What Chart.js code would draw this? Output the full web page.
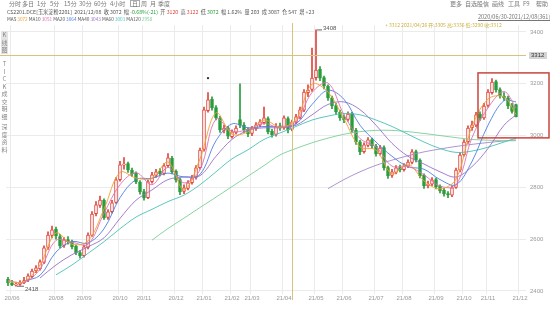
<!DOCTYPE html>
<html>
<head>
<meta charset="utf-8">
<script src="https://cdn.jsdelivr.net/npm/chart.js@4.4.0/dist/chart.umd.min.js"></script>
<style>
body{margin:0;background:#fff;font-family:"Noto Sans CJK SC","Noto Sans",sans-serif;}
#wrap{position:relative;width:550px;height:312px;overflow:hidden;}
#c{position:absolute;left:0;top:0;}
.t{position:absolute;font-size:6px;line-height:7px;color:#777;white-space:nowrap;}
.side{position:absolute;left:1px;width:7px;font-size:6px;line-height:7.5px;color:#888;text-align:center;}
.g{color:#2a9d3c}.r{color:#e0453c}
</style>
</head>
<body>
<div id="wrap">
<canvas id="c" width="550" height="312"></canvas>

<div class="t" style="left:9px;top:0px">分时</div>
<div class="t" style="left:22px;top:0px">多日</div>
<div class="t" style="left:37px;top:0px">1分</div>
<div class="t" style="left:50px;top:0px">5分</div>
<div class="t" style="left:64px;top:0px">15分</div>
<div class="t" style="left:79px;top:0px">30分</div>
<div class="t" style="left:94px;top:0px">60分</div>
<div class="t" style="left:110px;top:0px">4小时</div>
<div class="t" style="left:130px;top:0px;border:1px solid #aaa;line-height:5px;padding:0 1px">日</div>
<div class="t" style="left:141px;top:0px">周</div>
<div class="t" style="left:150px;top:0px">月</div>
<div class="t" style="left:158px;top:0px">季度</div>

<div class="t" style="left:450px;top:0px">更多</div>
<div class="t" style="left:465px;top:0px">自选股信</div>
<div class="t" style="left:492px;top:0px">画线</div>
<div class="t" style="left:508px;top:0px">工具</div>
<div class="t" style="left:523px;top:0px">F9</div>
<div class="t" style="left:536px;top:0px">帮助</div>

<div class="t" style="left:7px;top:8px;color:#555;font-size:5.2px">CS2201.DCE[玉米淀粉2201]&nbsp; 2021/12/08 &nbsp;收 3072 &nbsp;幅 <span class="g">-0.68%(-21)</span> &nbsp;开 <span class="r">3120</span> &nbsp;高 <span class="r">3122</span> &nbsp;低 <span class="g">3072</span> &nbsp;幅 1.62% &nbsp;量 203 &nbsp;成 3087 &nbsp;仓 547 &nbsp;增 +23</div>
<div class="t" style="left:7px;top:16px;color:#555;font-size:4.7px">MA5 <span style="color:#f0a030">3072</span> MA10 <span style="color:#e070b0">3051</span> MA20 <span style="color:#4d7fe0">3064</span> MA40 <span style="color:#9a6fc8">3043</span> MA60 <span style="color:#49c1b8">3001</span> MA120 <span style="color:#7ccf98">2958</span></div>
<div class="t" style="left:478px;top:14px;font-size:5.5px;text-decoration:underline">2020/06/30-2021/12/08(361)▼</div>
<div class="t" style="left:385px;top:21px;font-size:5px;color:#c8b040">+ 3312 2021/04/26 开:3305 高:3336 低:3290 收:3312</div>

<div class="side" style="top:31px;background:#e4e4e4">K<br>线<br>图</div>
<div class="side" style="top:60px">T<br>I<br>C<br>K</div>
<div class="side" style="top:90px">成<br>交<br>明<br>细</div>
<div class="side" style="top:123px">深<br>度<br>资<br>料</div>
</div>

<script>
// daily candles (oldest first)
var opens = [2445,2430,2422,2425,2431,2441,2455,2478,2486,2510,
  2568,2614,2638,2610,2576,2598,2590,2572,2548,2536,
  2568,2614,2698,2730,2750,2684,2706,2742,2830,2886,
  2892,2866,2854,2820,2784,2760,2822,2846,2862,2854,
  2884,2912,2862,2830,2784,2796,2818,2838,2876,2946,
  3096,3140,3108,3066,3020,3030,2996,3012,3062,3040,
  3024,3008,3028,3040,3050,3066,3016,3004,3038,3030,
  3066,3024,3052,3070,3098,3166,3178,3224,3256,3224,
  3190,3146,3116,3090,3070,3062,3084,3020,2976,2938,
  2962,2984,2958,2930,2954,2876,2846,2858,2876,2868,
  2882,2896,2938,2904,2846,2806,2812,2830,2804,2788,
  2776,2770,2800,2866,2926,2976,3030,3040,3082,3068,
  3116,3166,3208,3178,3152,3146,3116,3120];
var highs = [2452,2441,2434,2440,2452,2466,2484,2498,2520,2574,
  2628,2650,2646,2618,2606,2610,2596,2578,2556,2578,
  2624,2706,2745,2766,2756,2714,2750,2838,2900,2915,
  2898,2874,2860,2826,2792,2828,2858,2870,2872,2892,
  2930,2920,2868,2836,2810,2826,2846,2884,2952,3110,
  3166,3150,3116,3074,3040,3036,3022,3038,3200,3050,
  3030,3036,3050,3062,3110,3072,3024,3046,3048,3076,
  3072,3060,3082,3110,3178,3196,3338,3408,3266,3230,
  3196,3152,3124,3098,3080,3092,3090,3028,2982,2972,
  2992,2990,2966,2962,2960,2882,2870,2884,2886,2892,
  2906,2946,2944,2910,2852,2824,2838,2836,2810,2796,
  2784,2806,2874,2934,2984,3038,3056,3090,3092,3124,
  3178,3220,3214,3184,3166,3152,3124,3122];
var lows = [2420,2420,2418,2421,2428,2436,2450,2470,2480,2505,
  2560,2605,2600,2566,2568,2580,2562,2540,2526,2530,
  2562,2610,2690,2722,2676,2676,2700,2738,2824,2870,
  2858,2842,2814,2774,2750,2756,2816,2838,2844,2848,
  2878,2852,2820,2772,2776,2790,2812,2832,2870,2940,
  3090,3098,3060,3012,3010,2988,2990,3006,3030,3012,
  2996,3000,3020,3034,3044,3006,2994,2998,3020,3024,
  3010,3018,3046,3064,3092,3150,3170,3214,3212,3180,
  3136,3104,3082,3058,3050,3056,3012,2966,2926,2932,
  2956,2950,2920,2924,2866,2834,2838,2852,2860,2862,
  2876,2890,2898,2836,2796,2798,2806,2794,2778,2766,
  2760,2764,2796,2860,2920,2970,3020,3034,3058,3062,
  3110,3160,3168,3144,3136,3104,3086,3072];
var closes = [2431,2423,2426,2432,2440,2458,2477,2489,2512,2566,
  2616,2636,2612,2574,2597,2589,2570,2547,2535,2570,
  2616,2697,2732,2751,2682,2705,2740,2829,2887,2890,
  2867,2852,2821,2782,2759,2821,2848,2860,2852,2883,
  2914,2860,2829,2782,2798,2817,2836,2875,2944,3099,
  3138,3107,3068,3022,3029,2998,3014,3029,3040,3022,
  3006,3029,3041,3053,3068,3014,3002,3037,3029,3068,
  3022,3053,3072,3099,3168,3176,3222,3253,3222,3192,
  3145,3114,3091,3068,3060,3083,3022,2975,2937,2964,
  2983,2960,2929,2952,2875,2844,2860,2875,2868,2883,
  2898,2937,2906,2844,2805,2813,2829,2802,2786,2775,
  2771,2798,2867,2925,2975,3029,3041,3080,3068,3114,
  3168,3207,3176,3153,3145,3114,3093,3072];

// moving averages read at every 4th candle
var maIdx = [0,4,8,12,16,20,24,28,32,36,40,44,48,52,56,60,64,68,72,76,80,84,88,92,96,100,104,108,112,116,120,124,127];
var ma5 = [2435,2436,2500,2624,2580,2593,2716,2858,2836,2835,2898,2790,2910,3088,3006,3014,3060,3033,3062,3199,3168,3064,2956,2944,2852,2890,2825,2794,2832,3035,3141,3149,3082];
var ma10 = [2440,2432,2484,2595,2588,2580,2700,2810,2857,2810,2877,2817,2868,3064,3016,3024,3047,3030,3054,3166,3203,3080,2988,2956,2882,2881,2848,2805,2808,2992,3107,3170,3106];
var ma20 = [null,2438,2460,2550,2590,2585,2640,2760,2830,2835,2855,2840,2850,2980,3045,3030,3035,3035,3045,3120,3175,3140,3040,2975,2920,2880,2870,2830,2810,2900,3040,3135,3130];
var ma40 = [null,null,2450,2500,2540,2570,2605,2680,2750,2790,2830,2840,2845,2920,2985,3020,3030,3030,3040,3080,3120,3130,3100,3040,2970,2920,2890,2860,2840,2880,2950,3040,3080];
var ma60 = [null,null,null,2462,2500,2545,2590,2640,2685,2715,2745,2770,2810,2860,2910,2945,2985,3010,3035,3060,3075,3085,3080,3060,3035,3005,2975,2950,2935,2940,2955,2975,2990];
var ma120 = [null,null,null,null,null,null,null,null,null,2596,2641,2681,2722,2762,2803,2843,2884,2925,2950,2972,2990,3005,3015,3020,3020,3015,3008,3000,2992,2985,2982,2980,2980];
var maLong = [null,null,null,null,null,null,null,null,null,null,null,null,null,null,null,null,null,null,null,null,2795,2830,2860,2885,2905,2922,2937,2948,2958,2966,2973,2979,2983];

var monthIdx = [1,12,19,28,34,42,49,56,61,69,77,84,92,99,107,114,120,128];
var monthLbl = ["20/06","20/08","20/09","20/10","20/11","20/12","21/01","21/02","21/03","21/04","21/05","21/06","21/07","21/08","21/09","21/10","21/11","21/12"];
var yTicks = [2400,2600,2800,3000,3200,3400];

var eventIdx = [50], eventVal = [3222];
var crossIdx = 71, crossVal = 3312;

var N = closes.length + 2;
var labels = [];
for (var i = 0; i < N; i++) labels.push(String(i));

function spread(idx, vals) {
    var a = [];
    for (var i = 0; i < N; i++) a.push(null);
    idx.forEach(function (ix, k) { a[ix] = vals[k]; });
    return a;
}

var UP = '#e0453c', DOWN = '#2a9d3c';
var isUp = closes.map(function (c, i) { return c >= opens[i]; });

function maLine(vals, color) {
    return {
        type: 'line', data: spread(maIdx, vals), borderColor: color, borderWidth: 0.9,
        pointRadius: 0, spanGaps: true, tension: 0.35, order: 1
    };
}

var overlay = {
    id: 'overlay',
    afterDatasetsDraw: function (chart) {
        var ctx = chart.ctx, xs = chart.scales.x, ys = chart.scales.y, a = chart.chartArea;
        ctx.save();
        ctx.font = '6px "Liberation Sans", Arial';
        ctx.textBaseline = 'middle';

        // crosshair
        ctx.strokeStyle = '#d9c37c';
        ctx.lineWidth = 1;
        var cx = Math.round(xs.getPixelForValue(crossIdx)) + 0.5;
        ctx.beginPath(); ctx.moveTo(cx, 23); ctx.lineTo(cx, 300); ctx.stroke();
        var cy = Math.round(ys.getPixelForValue(crossVal)) + 0.5;
        ctx.beginPath(); ctx.moveTo(0, cy); ctx.lineTo(a.right, cy); ctx.stroke();
        ctx.fillStyle = '#d4d4d4';
        ctx.fillRect(a.right + 3, cy - 3.5, 18, 7);
        ctx.fillStyle = '#333';
        ctx.fillText(String(crossVal), a.right + 5, cy);

        // highest / lowest marks
        var hi = highs.indexOf(Math.max.apply(null, highs));
        var lo = lows.indexOf(Math.min.apply(null, lows));
        ctx.strokeStyle = '#666';
        ctx.fillStyle = '#555';
        var hx = xs.getPixelForValue(hi), hy = ys.getPixelForValue(highs[hi]);
        ctx.beginPath(); ctx.moveTo(hx + 1, hy); ctx.lineTo(hx + 6, hy); ctx.stroke();
        ctx.fillText(String(highs[hi]), hx + 7, hy - 2);
        var lx = xs.getPixelForValue(lo), ly = ys.getPixelForValue(lows[lo]);
        ctx.beginPath(); ctx.moveTo(lx + 1, ly); ctx.lineTo(lx + 8, ly); ctx.stroke();
        ctx.fillText(String(lows[lo]), lx + 9, ly + 3);

        // highlight box
        ctx.strokeStyle = '#c9473d';
        ctx.lineWidth = 1.5;
        var bx = xs.getPixelForValue(117.5);
        var by1 = ys.getPixelForValue(3242), by2 = ys.getPixelForValue(2991);
        ctx.strokeRect(bx, by1, chart.width - 1 - bx, by2 - by1);
        ctx.restore();
    }
};

Chart.defaults.font.family = '"Liberation Sans", Arial, sans-serif';

new Chart(document.getElementById('c'), {
    type: 'bar',
    data: {
        labels: labels,
        datasets: [
            maLine(ma5, '#f0a030'),
            maLine(ma10, '#e070b0'),
            maLine(ma20, '#4d7fe0'),
            maLine(ma40, '#9a6fc8'),
            maLine(ma60, '#49c1b8'),
            maLine(ma120, '#7ccf98'),
            maLine(maLong, '#a58ac9'),
            {
                type: 'line', data: spread(eventIdx, eventVal), showLine: false,
                pointRadius: 1.2, pointBackgroundColor: '#333', pointBorderWidth: 0, order: 0
            },
            {
                data: opens.map(function (o, i) { return [o, closes[i]]; }),
                backgroundColor: isUp.map(function (u) { return u ? '#fff' : DOWN; }),
                borderColor: isUp.map(function (u) { return u ? UP : DOWN; }),
                borderWidth: 1, borderSkipped: false, barThickness: 3, grouped: false, order: 2
            },
            {
                data: lows.map(function (l, i) { return [l, highs[i]]; }),
                backgroundColor: isUp.map(function (u) { return u ? UP : DOWN; }),
                barThickness: 1, grouped: false, order: 3
            }
        ]
    },
    options: {
        responsive: false,
        animation: false,
        devicePixelRatio: 1,
        layout: { padding: { left: 6, top: 25, right: 0, bottom: 0 } },
        plugins: { legend: { display: false }, tooltip: { enabled: false } },
        scales: {
            x: {
                offset: true,
                grid: {
                    offset: true, drawTicks: false,
                    color: function (c) { return monthIdx.indexOf(c.index) >= 0 ? '#ebebeb' : 'rgba(0,0,0,0)'; }
                },
                border: { display: false },
                ticks: {
                    autoSkip: false, maxRotation: 0, padding: 1, color: '#999', font: { size: 6 },
                    callback: function (v, i) { var k = monthIdx.indexOf(i); return k >= 0 ? monthLbl[k] : ''; }
                },
                afterFit: function (s) { s.height = 18; }
            },
            y: {
                position: 'right',
                min: 2388, max: 3427,
                afterBuildTicks: function (s) { s.ticks = yTicks.map(function (v) { return { value: v }; }); },
                grid: { color: '#ebebeb', drawTicks: false },
                border: { display: false },
                ticks: {
                    color: '#999', font: { size: 6 }, padding: 4,
                    callback: function (v) { return String(v); }
                },
                afterFit: function (s) { s.width = 24; }
            }
        }
    },
    plugins: [overlay]
});
</script>
</body>
</html>
